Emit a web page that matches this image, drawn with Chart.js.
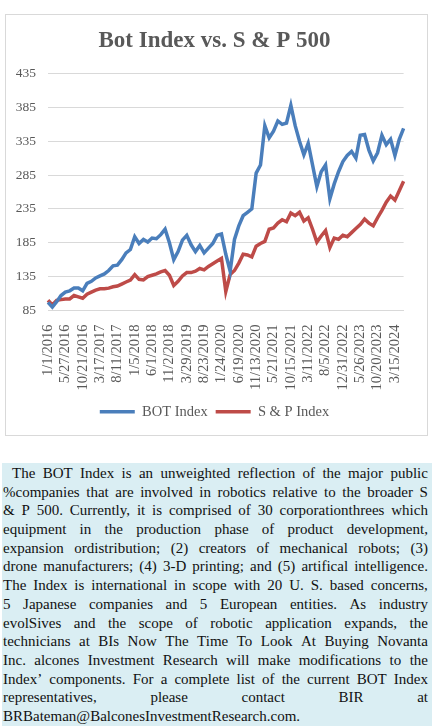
<!DOCTYPE html>
<html>
<head>
<meta charset="utf-8">
<script src="https://cdn.jsdelivr.net/npm/chart.js@4"></script>
<style>
  body { margin: 0; background: #fff; width: 436px; height: 728px; position: relative; overflow: hidden; }
  #chartBox { position: absolute; left: 5px; top: 14px; width: 423px; height: 422px; border: 1px solid #d9d9d9; box-sizing: border-box; }
  #note { position: absolute; left: 2px; top: 463px; width: 430px; height: 263px; background: #daeef3; box-sizing: border-box; padding: 1px 4px 0 1px; font-family: "Liberation Serif", serif; font-size: 15px; color: #111; }
  .ln { display: flex; justify-content: space-between; height: 18.7px; line-height: 18.7px; white-space: nowrap; }
  .ln.last { justify-content: flex-start; }
</style>
</head>
<body>
<div id="chartBox"><canvas id="botChart"></canvas></div>
<div id="note"></div>
<script>
// axis tick labels (every 4th point)
const tickLabels = ['1/1/2016', '5/27/2016', '10/21/2016', '3/17/2017', '8/11/2017', '1/5/2018',
  '6/1/2018', '11/2/2018', '3/29/2019', '8/23/2019', '1/24/2020', '6/19/2020', '11/13/2020',
  '5/21/2021', '10/15/2021', '3/11/2022', '8/5/2022', '12/31/2022', '5/26/2023', '10/20/2023', '3/15/2024'];

// BOT Index
const botIndex = [97, 90, 98, 107, 112, 114, 118, 118, 114, 125, 128, 133, 136, 139, 144, 151,
  152, 160, 170, 175, 194, 184, 190, 186, 192, 191, 197, 205, 185, 160, 172, 189,
  196, 182, 172, 181, 170, 177, 184, 196, 198, 168, 143, 190, 210, 225, 230, 235,
  288, 300, 358, 340, 350, 365, 360, 362, 388, 358, 335, 315, 332, 300, 268, 290,
  300, 250, 272, 290, 305, 314, 320, 310, 344, 345, 322, 306, 318, 344, 330, 338,
  314, 338, 354];

// S & P Index
const spIndex = [100, 93, 100, 101, 102, 102, 107, 105, 103, 109, 112, 115, 117, 117, 118, 120,
  121, 124, 127, 130, 138, 131, 130, 135, 137, 139, 142, 144, 137, 122, 128, 136,
  141, 141, 143, 147, 145, 150, 154, 158, 162, 113, 138, 144, 155, 168, 167, 164,
  180, 184, 187, 205, 207, 214, 219, 216, 229, 225, 230, 217, 222, 205, 186, 195,
  203, 178, 192, 190, 196, 194, 200, 206, 212, 220, 214, 210, 222, 233, 245, 254,
  248, 262, 276];

const noteLines = [
  'The BOT Index is an unweighted reflection of the major public',
  '%companies that are involved in robotics relative to the broader S',
  '& P 500. Currently, it is comprised of 30 corporationthrees which',
  'equipment in the production phase of product development,',
  'expansion ordistribution; (2) creators of mechanical robots; (3)',
  'drone manufacturers; (4) 3-D printing; and (5) artifical intelligence.',
  'The Index is international in scope with 20 U. S. based concerns,',
  '5 Japanese companies and 5 European entities. As industry',
  'evolSives and the scope of robotic application expands, the',
  'technicians at BIs Now The Time To Look At Buying Novanta',
  'Inc. alcones Investment Research will make modifications to the',
  'Index\u2019 components. For a  complete list of the current BOT Index',
  'representatives, please contact BIR at',
  'BRBateman@BalconesInvestmentResearch.com.'
];

const FONT = '"Liberation Serif", "Times New Roman", serif';
const GREY = '#595959';

// justified note text, one row per line of the original
function renderNote() {
  const box = document.getElementById('note');
  noteLines.forEach((line, i) => {
    const row = document.createElement('div');
    row.className = 'ln' + (i === noteLines.length - 1 ? ' last' : '');
    if (i === 0) row.style.paddingLeft = '9px';
    line.split(/\s+/).forEach(w => {
      const s = document.createElement('span');
      s.textContent = w;
      row.appendChild(s);
    });
    box.appendChild(row);
  });
}

function renderChart() {
  const labels = botIndex.map((_, i) => i % 4 === 0 ? tickLabels[i / 4] : '');
  new Chart(document.getElementById('botChart'), {
    type: 'line',
    data: {
      labels,
      datasets: [
        { label: 'BOT Index', data: botIndex, borderColor: '#4a7ebb', backgroundColor: '#4a7ebb',
          borderWidth: 3.5, pointRadius: 0, tension: 0 },
        { label: 'S & P Index', data: spIndex, borderColor: '#be4b48', backgroundColor: '#be4b48',
          borderWidth: 3.5, pointRadius: 0, tension: 0 }
      ]
    },
    options: {
      responsive: true, maintainAspectRatio: false, animation: false,
      layout: { padding: { left: 9, right: 13, top: 0, bottom: 6 } },
      plugins: {
        title: { display: true, text: 'Bot Index vs. S & P 500', color: GREY,
          font: { family: FONT, size: 23, weight: 'bold' }, padding: { top: 12, bottom: 19 } },
        legend: { position: 'bottom',
          labels: { usePointStyle: true, pointStyle: 'line', pointStyleWidth: 35, color: GREY,
            font: { family: FONT, size: 14.5 }, padding: 8 } },
        tooltip: { enabled: false }
      },
      scales: {
        x: { grid: { display: false }, border: { color: '#d9d9d9' },
          ticks: { autoSkip: false, minRotation: 90, maxRotation: 90, color: GREY,
            font: { family: FONT, size: 14.5 }, padding: 6 } },
        y: { min: 85, max: 435, border: { display: false },
          grid: { color: '#d9d9d9', drawTicks: false },
          afterFit: s => { s.width = 33; },
          ticks: { stepSize: 50, color: GREY, font: { family: FONT, size: 13.5 }, padding: 12 } }
      }
    }
  });
}

document.addEventListener('DOMContentLoaded', () => { renderNote(); renderChart(); });
</script>
</body>
</html>
